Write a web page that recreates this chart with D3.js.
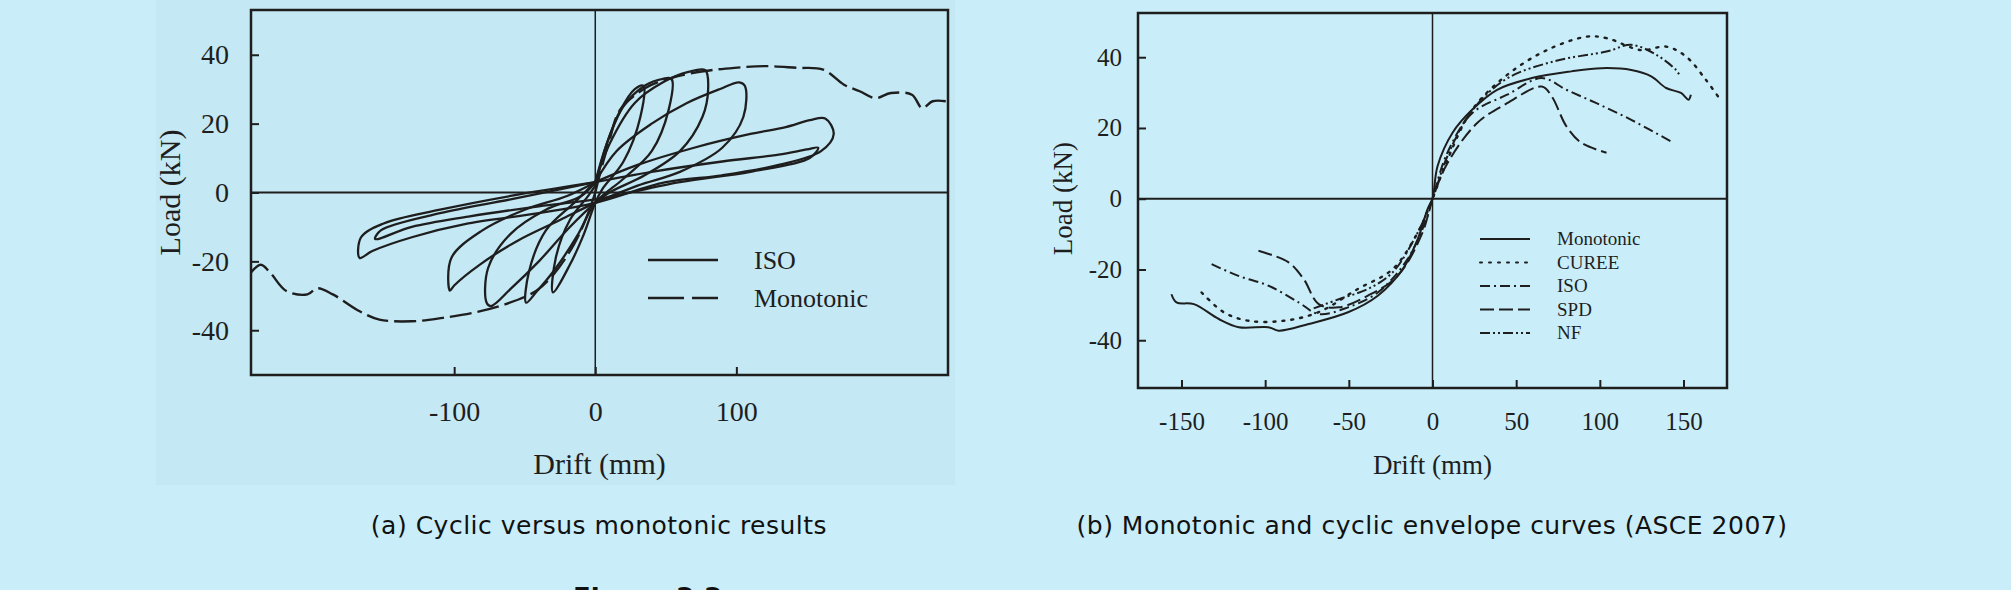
<!DOCTYPE html>
<html>
<head>
<meta charset="utf-8">
<script src="https://cdn.jsdelivr.net/npm/d3@7"></script>
<style>
  body { margin: 0; background: #c9eef9; }
  svg { display: block; }
</style>
</head>
<body>
<svg id="fig" width="2011" height="590"></svg>
<script>
// ---- panel (a): cyclic vs monotonic ----
const aTicksX = [-100, 0, 100];
const aTicksY = [40, 20, 0, -20, -40];
const aMonoNeg = [[-244,-23.2],[-237,-21],[-230,-23.5],[-219,-28.6],[-204,-29.6],[-197,-27.8],[-186,-29.6],[-167,-34.5],[-153,-36.9],[-130,-37.4],[-108,-36.4],[-86,-34.9],[-64,-32.5],[-42,-28.6],[-30,-24],[-15,-15],[-5,-6],[0,0]];
const aMonoPos = [[0,0],[5,8],[10,15],[17.4,23.9],[35.9,30.4],[54.3,33.3],[76.5,35.2],[98.7,36.2],[120.9,36.7],[143,36.2],[161.5,35.7],[176.3,31.3],[187.4,29.4],[198.5,27.4],[209.6,28.9],[224.4,28.4],[231.7,24.5],[239.1,26.5],[248.4,26.5]];
const aIsoLoops = [
  [[0,2],[8,14],[18,24],[28,30],[34,31],[32,22],[20,9],[5,1],[0,-3],[-8,-12],[-18,-21],[-30,-29],[-28,-19],[-18,-8],[-5,-1],[0,2]],
  [[0,3],[8,14],[20,25],[35,31],[48,33],[54,33],[52,24],[40,12],[20,4],[0,-3],[-12,-12],[-28,-22],[-42,-29],[-49,-32],[-47,-23],[-35,-11],[-15,-3],[0,3]],
  [[0,3],[10,14],[28,26],[48,32],[66,35],[78,35.5],[80,30],[76,22],[60,12],[35,5],[10,0],[0,-3],[-18,-10],[-40,-20],[-60,-28],[-74,-33],[-77,-32],[-76,-22],[-60,-12],[-35,-5],[-10,-1],[0,3]],
  [[0,3],[15,12],[40,20],[65,26],[88,30],[102,32],[106,31],[105,22],[90,13],[60,6],[30,2],[0,-3],[-25,-8],[-55,-14],[-82,-21],[-100,-27],[-103,-28.5],[-102,-19],[-80,-11],[-50,-5],[-20,-1],[0,3]],
  [[0,3],[30,8],[70,13],[110,17],[135,19],[152,21],[163,21.5],[169,17],[160,12],[130,8],[90,5],[50,3],[0,-3],[-40,-6],[-90,-9],[-130,-13],[-158,-17],[-167,-19],[-166,-13],[-150,-9],[-110,-5],[-60,-1],[0,3]],
  [[0,3],[40,6],[90,9],[130,11],[150,12.5],[158,13],[152,10],[110,6],[60,3],[0,-2],[-40,-4],[-90,-7],[-130,-10],[-156,-13.5],[-152,-11],[-110,-6],[-60,-2],[0,3]]
];
const aLegend = ["ISO", "Monotonic"];

// ---- panel (b): envelope curves ----
const bTicksX = [-150, -100, -50, 0, 50, 100, 150];
const bTicksY = [40, 20, 0, -20, -40];
const bNames = ["Monotonic", "CUREE", "ISO", "SPD", "NF"];
const bMonotonic = [[-156,-27],[-153,-29.3],[-142.6,-29.8],[-127.7,-34],[-115.8,-36.3],[-98,-36.3],[-92,-37.3],[-74,-35.4],[-50.5,-32.1],[-32.7,-27.4],[-17.8,-19.9],[-8.9,-11.5],[-3,-3],[0,0],[3,9.2],[11.9,18.6],[23.8,25.2],[38.6,30.8],[59.4,34.1],[83,36],[101,36.9],[118.8,36.4],[130.7,34.6],[139.6,31.3],[148.5,29.9],[153,28],[154.4,29.4]];
const bCuree = [[-138,-26.5],[-124.7,-32.1],[-110,-34.5],[-89,-34.5],[-68.3,-32.1],[-44.6,-25.5],[-23.8,-19.9],[-8.9,-9.6],[0,0],[8.9,11],[23.8,25.2],[44.6,35],[68.3,42],[92,45.8],[104,45.4],[124.7,42],[139.6,43],[151.5,40.2],[163.4,33.6],[172,28]];
const bIso = [[-132,-18.5],[-116,-21.8],[-98,-24.6],[-80,-29.3],[-68,-32.6],[-50.5,-30.7],[-32.7,-26.5],[-14.8,-17],[-3,-4.9],[0,0],[8.9,13],[23.8,24.2],[44.6,29.4],[65.3,34.1],[80,30.8],[98,27],[118.8,22.3],[144,15.8]];
const bSpd = [[-104,-14.7],[-86,-18],[-77,-22.7],[-68,-29.8],[-56,-30.7],[-38.6,-27.4],[-20.8,-21.8],[-6,-9.6],[0,0],[8.9,10],[26.7,21.4],[44.6,27],[65.3,31.7],[71.3,28.9],[80,20.5],[89,15.8],[104,13]];
const bNf = [[-71,-31],[-56,-28.4],[-38.6,-25.5],[-23.8,-20.8],[-8.9,-9.6],[0,0],[8.9,12],[23.8,25],[44.6,34],[74,39],[104,41.6],[118.8,43.5],[133.7,40.7],[145.5,36.4],[148,34.6]];
const bSeries = [bMonotonic, bCuree, bIso, bSpd, bNf];
const bDash = [null, "2 7", "10 4 2 4", "14 5", "10 3 2 3 2 3"];

const svg = d3.select("#fig");
const ink = "#1e1e1e";
const serif = "'Liberation Serif', 'DejaVu Serif', serif";
const fmt = d => String(d); // plain hyphen minus, as in the scan

// image backdrop of panel (a)
svg.append("rect").attr("x", 156).attr("y", 0).attr("width", 799).attr("height", 485).attr("fill", "#c4e8f4");

function panel(opt) {
  const x = d3.scaleLinear().domain(opt.xd).range([opt.l, opt.r]);
  const y = d3.scaleLinear().domain(opt.yd).range([opt.b, opt.t]);
  const g = svg.append("g");
  g.append("rect").attr("x", opt.l).attr("y", opt.t).attr("width", opt.r - opt.l).attr("height", opt.b - opt.t)
    .attr("fill", "none").attr("stroke", ink).attr("stroke-width", 2.5);
  g.append("line").attr("x1", opt.l).attr("x2", opt.r).attr("y1", y(0)).attr("y2", y(0)).attr("stroke", ink).attr("stroke-width", 2);
  g.append("line").attr("x1", x(0)).attr("x2", x(0)).attr("y1", opt.t).attr("y2", opt.b).attr("stroke", ink).attr("stroke-width", 1.5);

  const ax = g.append("g").attr("transform", `translate(0,${opt.b})`)
    .call(d3.axisBottom(x).tickValues(opt.tx).tickSize(-8).tickPadding(opt.padX).tickFormat(fmt));
  const ay = g.append("g").attr("transform", `translate(${opt.l},0)`)
    .call(d3.axisLeft(y).tickValues(opt.ty).tickSize(-8).tickPadding(opt.padY).tickFormat(fmt));
  [ax, ay].forEach(a => {
    a.select(".domain").remove();
    a.selectAll("line").attr("stroke", ink).attr("stroke-width", 2);
    a.selectAll("text").attr("font-family", serif).attr("font-size", opt.fs).attr("fill", ink);
  });
  g.append("text").attr("x", (opt.l + opt.r) / 2).attr("y", opt.xlabY).attr("text-anchor", "middle")
    .attr("font-family", serif).attr("font-size", opt.fs + 2).attr("fill", ink).text("Drift (mm)");
  g.append("text").attr("transform", `translate(${opt.ylabX},${y(0)}) rotate(-90)`).attr("text-anchor", "middle")
    .attr("font-family", serif).attr("font-size", opt.fs + 2).attr("fill", ink).text("Load (kN)");
  return { g, x, y };
}

// ---- (a)
const A = panel({ l: 251, r: 948, t: 10, b: 375, xd: [-244, 250], yd: [-53, 53], tx: aTicksX, ty: aTicksY,
  fs: 28, padX: 26, padY: 22, xlabY: 474, ylabX: 180 });
const aLine = d3.line().x(d => A.x(d[0])).y(d => A.y(d[1])).curve(d3.curveCatmullRom.alpha(0.5));
A.g.append("g").selectAll("path").data(aIsoLoops).join("path")
  .attr("d", aLine).attr("fill", "none").attr("stroke", ink).attr("stroke-width", 2.3);
[aMonoNeg, aMonoPos].forEach(s => A.g.append("path").attr("d", aLine(s)).attr("fill", "none")
  .attr("stroke", ink).attr("stroke-width", 2.4).attr("stroke-dasharray", "22 6"));
aLegend.forEach((n, i) => {
  const yy = 260 + i * 38;
  A.g.append("line").attr("x1", 648).attr("x2", 718).attr("y1", yy).attr("y2", yy).attr("stroke", ink)
    .attr("stroke-width", 2.4).attr("stroke-dasharray", i ? "36 8 14 0" : null);
  A.g.append("text").attr("x", 754).attr("y", yy + 9).attr("font-family", serif).attr("font-size", 26)
    .attr("fill", ink).text(n);
});

// ---- (b)
const B = panel({ l: 1138, r: 1727, t: 13, b: 388, xd: [-176, 176], yd: [-53.5, 52.5], tx: bTicksX, ty: bTicksY,
  fs: 25, padX: 24, padY: 16, xlabY: 474, ylabX: 1072 });
const bLine = d3.line().x(d => B.x(d[0])).y(d => B.y(d[1])).curve(d3.curveCatmullRom.alpha(0.5));
bSeries.forEach((s, i) => B.g.append("path").attr("d", bLine(s)).attr("fill", "none").attr("stroke", ink)
  .attr("stroke-width", i === 1 ? 2.4 : 2).attr("stroke-linecap", i === 1 ? "round" : "butt")
  .attr("stroke-dasharray", bDash[i]));
bNames.forEach((n, i) => {
  const yy = 239 + i * 23.5;
  B.g.append("line").attr("x1", 1480).attr("x2", 1530).attr("y1", yy).attr("y2", yy).attr("stroke", ink)
    .attr("stroke-width", 2).attr("stroke-linecap", i === 1 ? "round" : "butt").attr("stroke-dasharray", bDash[i]);
  B.g.append("text").attr("x", 1557).attr("y", yy + 6).attr("font-family", serif).attr("font-size", 19)
    .attr("fill", ink).text(n);
});

// ---- captions
const sans = "'DejaVu Sans', 'Liberation Sans', sans-serif";
svg.append("text").attr("x", 599).attr("y", 534).attr("text-anchor", "middle").attr("font-family", sans)
  .attr("font-size", 25).attr("letter-spacing", 0.5).attr("fill", "#111").text("(a) Cyclic versus monotonic results");
svg.append("text").attr("x", 1432).attr("y", 534).attr("text-anchor", "middle").attr("font-family", sans)
  .attr("font-size", 25).attr("letter-spacing", 0.5).attr("fill", "#111").text("(b) Monotonic and cyclic envelope curves (ASCE 2007)");
svg.append("text").attr("x", 573).attr("y", 607).attr("font-family", sans).attr("font-weight", "bold")
  .attr("font-size", 26).attr("fill", "#111").text("Figure 2.2");
</script>
</body>
</html>
